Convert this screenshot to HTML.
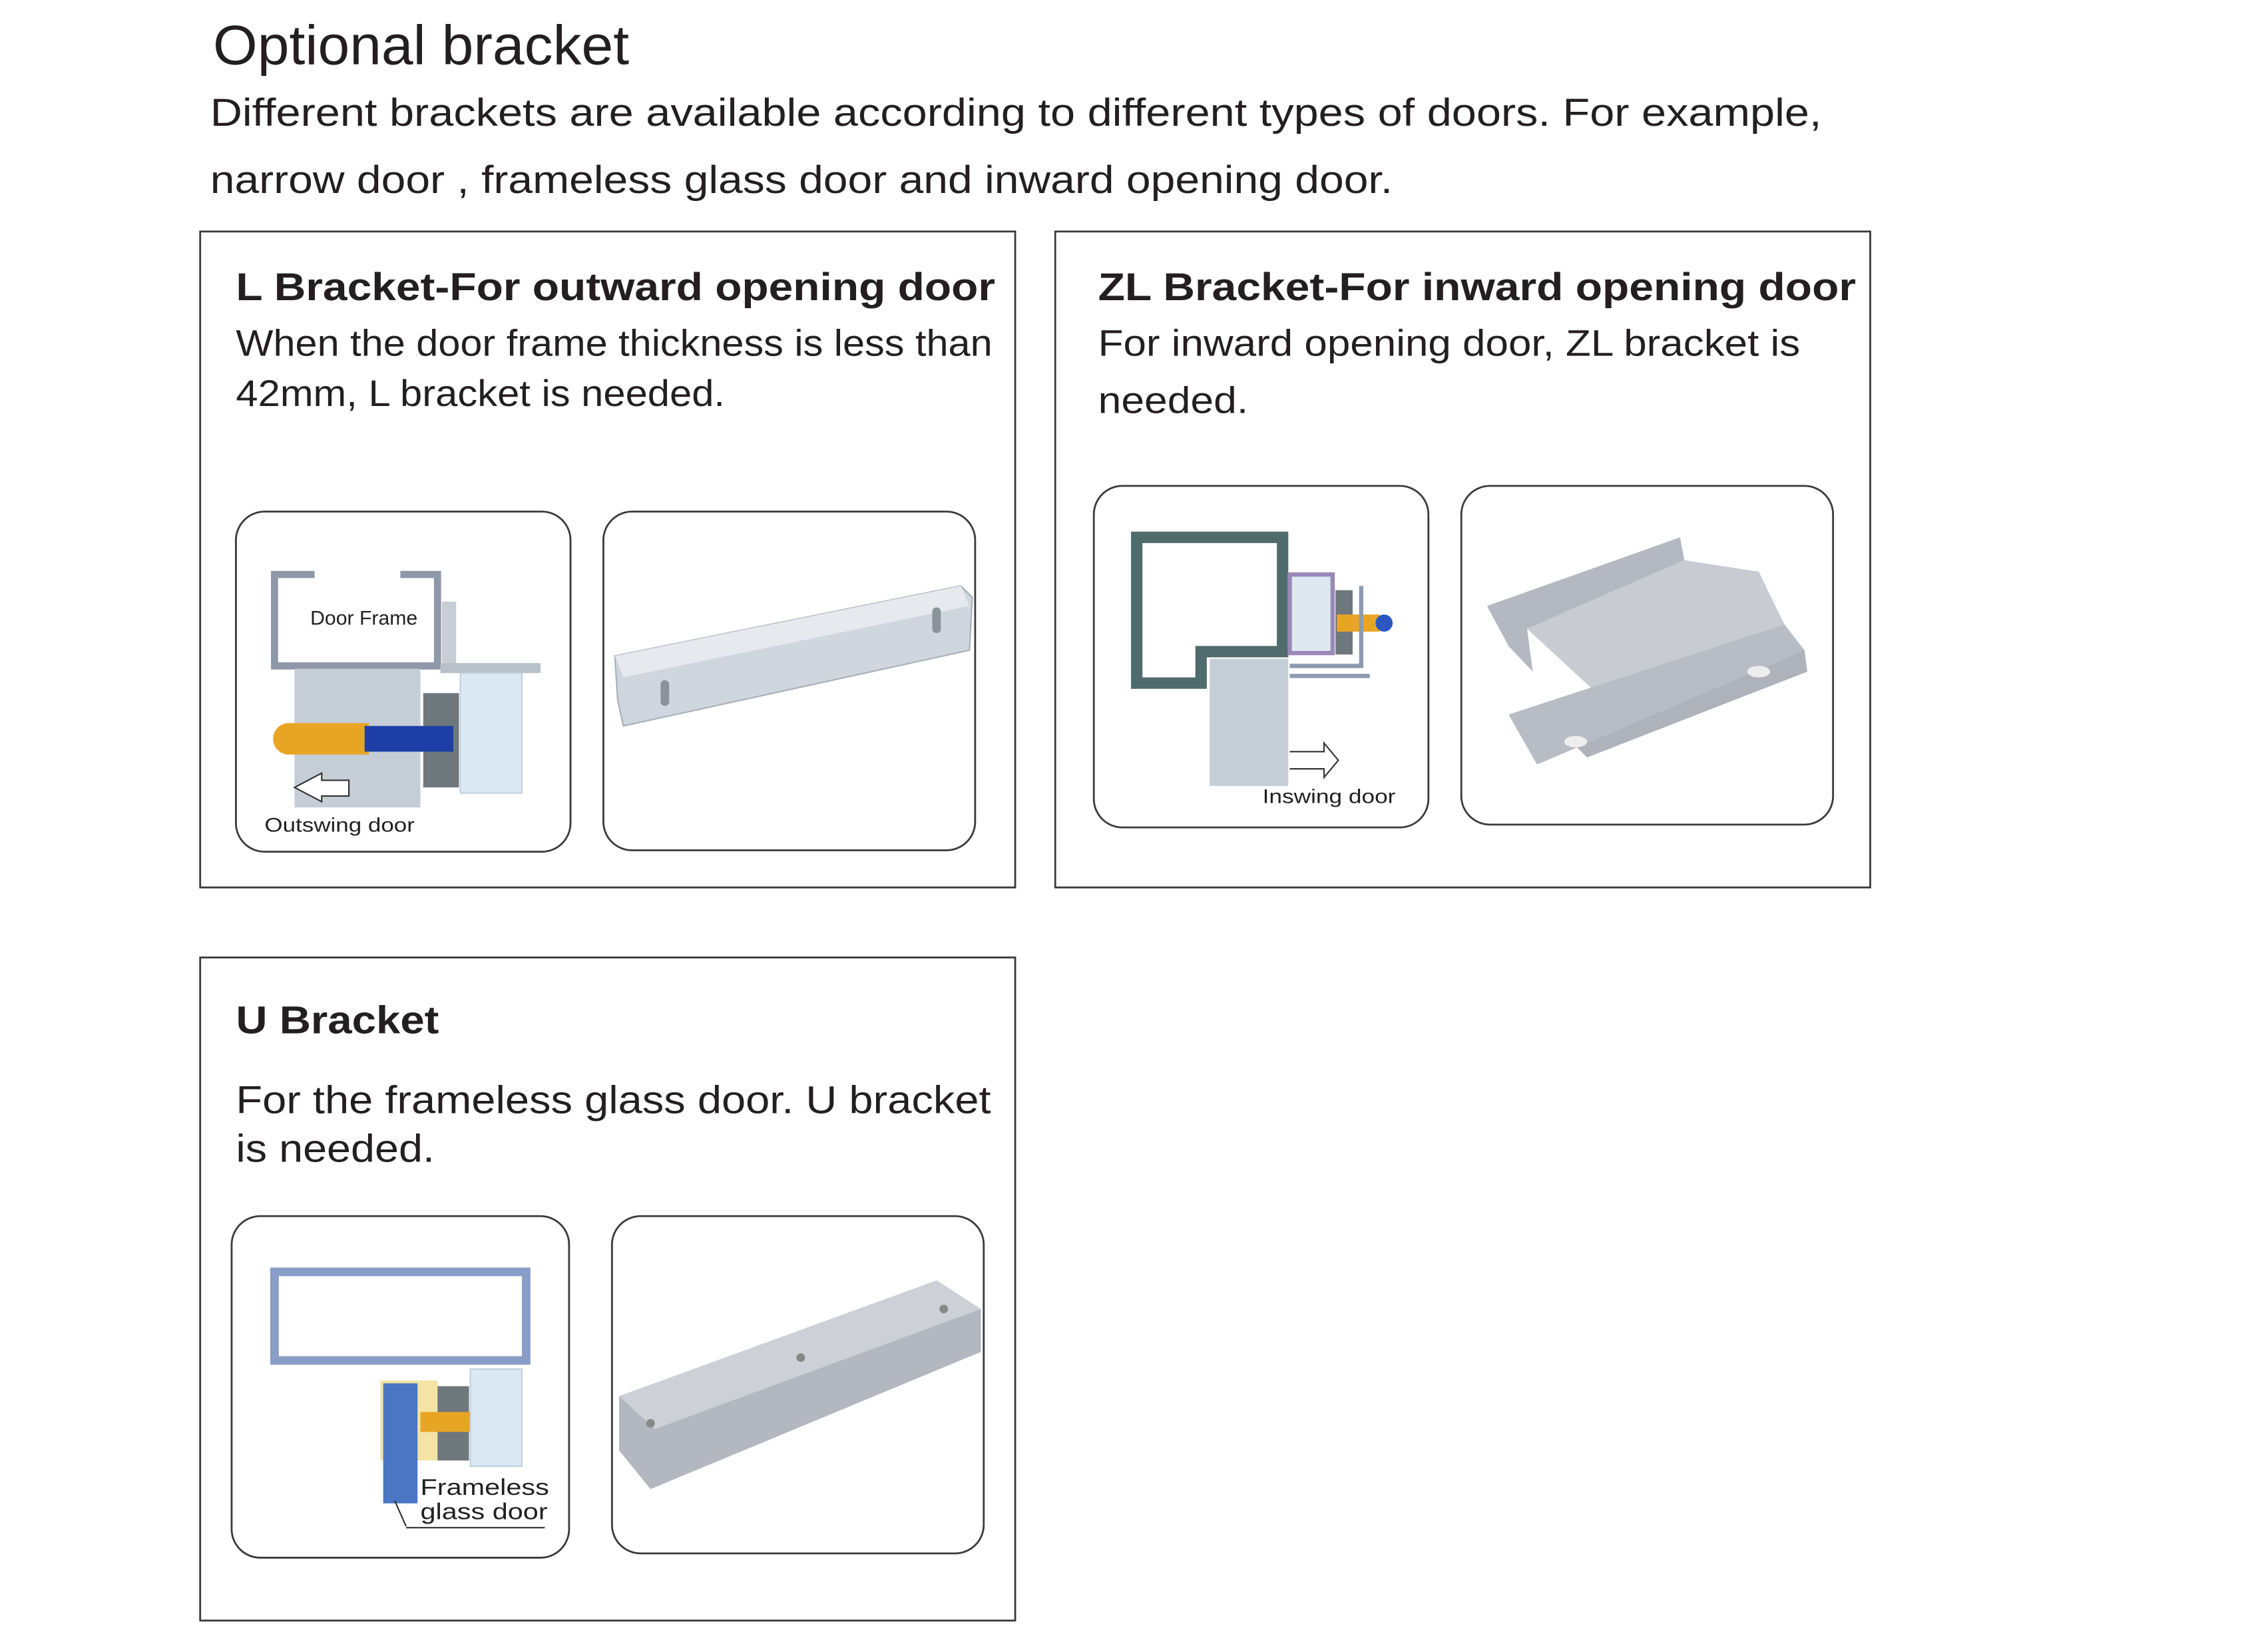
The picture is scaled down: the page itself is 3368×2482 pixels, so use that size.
<!DOCTYPE html>
<html><head><meta charset="utf-8"><style>
html,body{margin:0;padding:0;background:#fff;}
svg{display:block;}
text{font-family:"Liberation Sans",sans-serif;fill:#231f20;}
</style></head><body>
<svg width="3368" height="2482" viewBox="0 0 1568 1156" preserveAspectRatio="none" xmlns="http://www.w3.org/2000/svg">
<rect width="1568" height="1156" fill="#fff"/>
<text x="149" y="45" font-size="39" textLength="291" lengthAdjust="spacingAndGlyphs">Optional bracket</text>
<text x="147" y="88" font-size="27" textLength="1127" lengthAdjust="spacingAndGlyphs">Different brackets are available according to different types of doors. For example,</text>
<text x="147" y="135" font-size="27" textLength="827" lengthAdjust="spacingAndGlyphs">narrow door , frameless glass door and inward opening door.</text>

<g fill="none" stroke="#3a3a3a" stroke-width="1.3">
<rect x="140" y="162" width="570" height="459"/>
<rect x="738" y="162" width="570" height="459"/>
<rect x="140" y="670" width="570" height="464"/>
<rect x="165" y="358" width="234" height="238" rx="20"/>
<rect x="422" y="358" width="260" height="237" rx="20"/>
<rect x="765" y="340" width="234" height="239" rx="20"/>
<rect x="1022" y="340" width="260" height="237" rx="20"/>
<rect x="162" y="851" width="236" height="239" rx="20"/>
<rect x="428" y="851" width="260" height="236" rx="20"/>
</g>

<text x="165" y="210" font-size="27" font-weight="bold" textLength="531" lengthAdjust="spacingAndGlyphs">L Bracket-For outward opening door</text>
<text x="165" y="249" font-size="26" textLength="529" lengthAdjust="spacingAndGlyphs">When the door frame thickness is less than</text>
<text x="165" y="284" font-size="26" textLength="342" lengthAdjust="spacingAndGlyphs">42mm, L bracket is needed.</text>

<text x="768" y="210" font-size="27" font-weight="bold" textLength="530" lengthAdjust="spacingAndGlyphs">ZL Bracket-For inward opening door</text>
<text x="768" y="249" font-size="26" textLength="491" lengthAdjust="spacingAndGlyphs">For inward opening door, ZL bracket is</text>
<text x="768" y="289" font-size="26" textLength="105" lengthAdjust="spacingAndGlyphs">needed.</text>

<text x="165" y="723" font-size="27" font-weight="bold" textLength="142" lengthAdjust="spacingAndGlyphs">U Bracket</text>
<text x="165" y="779" font-size="27" textLength="528" lengthAdjust="spacingAndGlyphs">For the frameless glass door. U bracket</text>
<text x="165" y="813" font-size="27" textLength="139" lengthAdjust="spacingAndGlyphs">is needed.</text>

<!-- L diagram -->
<path d="M220,402 H192 V466 H306 V402 H280" fill="none" stroke="#8f98a8" stroke-width="5"/>
<rect x="309" y="421" width="10" height="45" fill="#c8ced6"/>
<rect x="308" y="464" width="70" height="7" fill="#b8c0ca"/>
<rect x="206" y="468" width="88" height="97" fill="#c5cdd6"/>
<rect x="296" y="485" width="25" height="66" fill="#6e777b"/>
<rect x="322" y="471" width="43" height="84" fill="#dbe9f4" stroke="#c0d0dc"/>
<rect x="200" y="506" width="58" height="22" fill="#e8a524"/>
<circle cx="202" cy="517" r="11" fill="#e8a524"/>
<rect x="255" y="508" width="62" height="18" fill="#1c3ea6"/>
<path d="M225,546 H244 V557 H225 V561 L206,551 L225,541 Z" fill="#fff" stroke="#333" stroke-width="1"/>
<text x="217" y="437" font-size="14" textLength="75" lengthAdjust="spacingAndGlyphs">Door Frame</text>
<text x="185" y="582" font-size="14" textLength="105" lengthAdjust="spacingAndGlyphs">Outswing door</text>

<!-- L bracket photo -->
<polygon points="430,459 672,410 680,418 678,455 436,508 432,490" fill="#cfd6de" stroke="#a8b0b8" stroke-width="1"/>
<polygon points="430,459 672,410 678,424 436,474" fill="#e6eaef"/>
<rect x="462" y="476" width="6" height="18" rx="3" fill="#8a929a"/>
<rect x="652" y="425" width="6" height="18" rx="3" fill="#8a929a"/>

<!-- ZL diagram -->
<path d="M795,376 H897 V456 H840 V478 H795 Z" fill="none" stroke="#4f6b6b" stroke-width="8"/>
<rect x="902" y="402" width="30" height="55" fill="#dde8f0" stroke="#9a88b8" stroke-width="3"/>
<rect x="934" y="413" width="12" height="45" fill="#6e777b"/>
<rect x="935" y="430" width="30" height="12" fill="#e8a524"/>
<circle cx="968" cy="436" r="6" fill="#2a58c0"/>
<path d="M952,410 V466 H902 M902,473 H958" fill="none" stroke="#8f9ab0" stroke-width="3"/>
<rect x="846" y="461" width="55" height="89" fill="#c5ced6"/>
<path d="M902,526 H926 V520 L936,532 L926,544 V538 H902" fill="#fff" stroke="#333" stroke-width="1"/>
<text x="883" y="562" font-size="14" textLength="93" lengthAdjust="spacingAndGlyphs">Inswing door</text>

<!-- ZL bracket photo -->
<polygon points="1040,424 1175,376 1178,392 1068,440 1072,470 1055,452" fill="#b4b8c0"/>
<polygon points="1068,440 1178,392 1230,400 1248,437 1120,488" fill="#c8ccd2"/>
<polygon points="1120,488 1248,437 1262,455 1264,470 1110,530 1100,520" fill="#aeb2ba"/>
<polygon points="1055,500 1248,437 1262,455 1075,535" fill="#b8bcc4"/>
<ellipse cx="1102" cy="519" rx="8" ry="4" fill="#eee"/>
<ellipse cx="1230" cy="470" rx="8" ry="4" fill="#eee"/>

<!-- U diagram -->
<rect x="192" y="890" width="176" height="62" fill="none" stroke="#8a9cc8" stroke-width="6"/>
<rect x="266" y="966" width="40" height="56" fill="#f3e4a6"/>
<rect x="268" y="968" width="24" height="84" fill="#4a76c4"/>
<rect x="306" y="970" width="22" height="52" fill="#6e777b"/>
<rect x="294" y="988" width="36" height="14" fill="#e8a524"/>
<rect x="329" y="958" width="36" height="68" fill="#dbe9f4" stroke="#c0d0dc"/>
<line x1="276" y1="1050" x2="284" y2="1068" stroke="#333" stroke-width="1"/>
<line x1="284" y1="1069" x2="381" y2="1069" stroke="#333" stroke-width="1"/>
<text x="294" y="1046" font-size="16" textLength="90" lengthAdjust="spacingAndGlyphs">Frameless</text>
<text x="294" y="1063" font-size="16" textLength="89" lengthAdjust="spacingAndGlyphs">glass door</text>

<!-- U bracket photo -->
<polygon points="433,977 655,896 686,916 686,946 455,1042 433,1015" fill="#b3b7bf"/>
<polygon points="433,977 655,896 686,916 458,1000" fill="#cdd1d7"/>
<circle cx="560" cy="950" r="3" fill="#888"/>
<circle cx="660" cy="916" r="3" fill="#888"/>
<circle cx="455" cy="996" r="3" fill="#888"/>
</svg>
</body></html>
